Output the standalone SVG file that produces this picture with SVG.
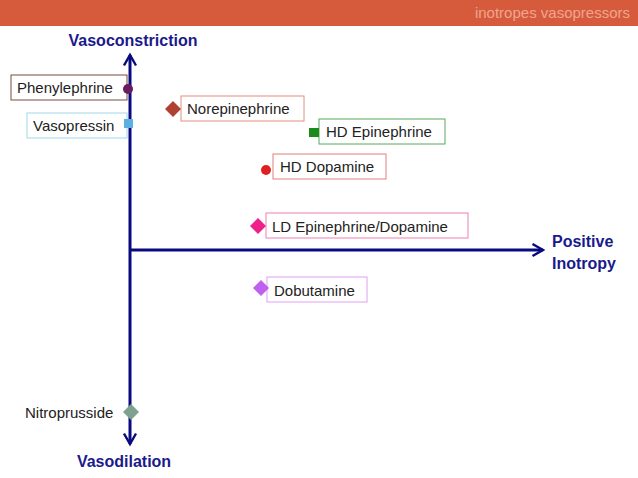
<svg xmlns="http://www.w3.org/2000/svg" width="638" height="478" viewBox="0 0 638 478">
<defs>
<style>
text{font-family:"Liberation Sans",Arial,sans-serif;font-size:15px;fill:#222}
.b{font-weight:bold;fill:#1a1a8c;font-size:16px}
.box{fill:#fff;stroke-width:1}
</style>
<marker id="ah" viewBox="0 0 10 10" refX="8" refY="5" markerWidth="5" markerHeight="5" orient="auto-start-reverse"><path d="M1,1 L8,5 L1,9" fill="none" stroke="#0a0a80" stroke-width="1.6"/></marker>
</defs>
<rect x="0" y="0" width="638" height="26" fill="#d65a3c"/>
<text x="630" y="18" text-anchor="end" style="fill:#f0a58f;font-size:15px">inotropes vasopressors</text>
<g id="connectors" stroke="#0a0a80" stroke-width="3" fill="none">
<line x1="130" y1="55" x2="130" y2="444" marker-start="url(#ah)" marker-end="url(#ah)"/>
<line x1="130" y1="250" x2="543" y2="250" marker-end="url(#ah)"/>
</g>
<text class="b" x="133" y="46" text-anchor="middle">Vasoconstriction</text>
<text class="b" x="124" y="467" text-anchor="middle">Vasodilation</text>
<text class="b" x="552" y="247">Positive</text>
<text class="b" x="552" y="269">Inotropy</text>
<g id="phenylephrine"><rect class="box" x="11" y="75" width="116" height="25" stroke="#7a4a40"/><text x="17" y="93">Phenylephrine</text><circle cx="128" cy="89" r="5" fill="#6a1a60"/></g>
<g id="vasopressin"><rect class="box" x="27" y="113" width="100" height="25" stroke="#9fd8e8"/><text x="33" y="131">Vasopressin</text><rect x="124" y="119" width="9" height="9" fill="#5ab0e0"/></g>
<g id="norepinephrine"><rect class="box" x="181" y="96" width="123" height="25" stroke="#e09080"/><text x="187" y="114">Norepinephrine</text><path d="M173,101 L181,109 L173,117 L165,109Z" fill="#b04030"/></g>
<g id="hd-epi"><rect class="box" x="319" y="119" width="126" height="25" stroke="#5aaa5a"/><text x="326" y="137">HD Epinephrine</text><rect x="309" y="128" width="10" height="9" fill="#1a8a1a"/></g>
<g id="hd-dopa"><rect class="box" x="273" y="154" width="113" height="25" stroke="#e08080"/><text x="280" y="172">HD Dopamine</text><circle cx="266" cy="170" r="5" fill="#e02020"/></g>
<g id="ld-epi"><rect class="box" x="266" y="213" width="202" height="25" stroke="#f080b0"/><text x="272" y="232">LD Epinephrine/Dopamine</text><path d="M258,218 L266,226 L258,234 L250,226Z" fill="#f0208a"/></g>
<g id="dobutamine"><rect class="box" x="267" y="277" width="100" height="25" stroke="#e0a0f0"/><text x="274" y="296">Dobutamine</text><path d="M261,280 L269,288 L261,296 L253,288Z" fill="#c060f0"/></g>
<g id="nitroprusside"><text x="25" y="418">Nitroprusside</text><path d="M131,404 L139,412 L131,420 L123,412Z" fill="#80a090"/></g>
</svg>
